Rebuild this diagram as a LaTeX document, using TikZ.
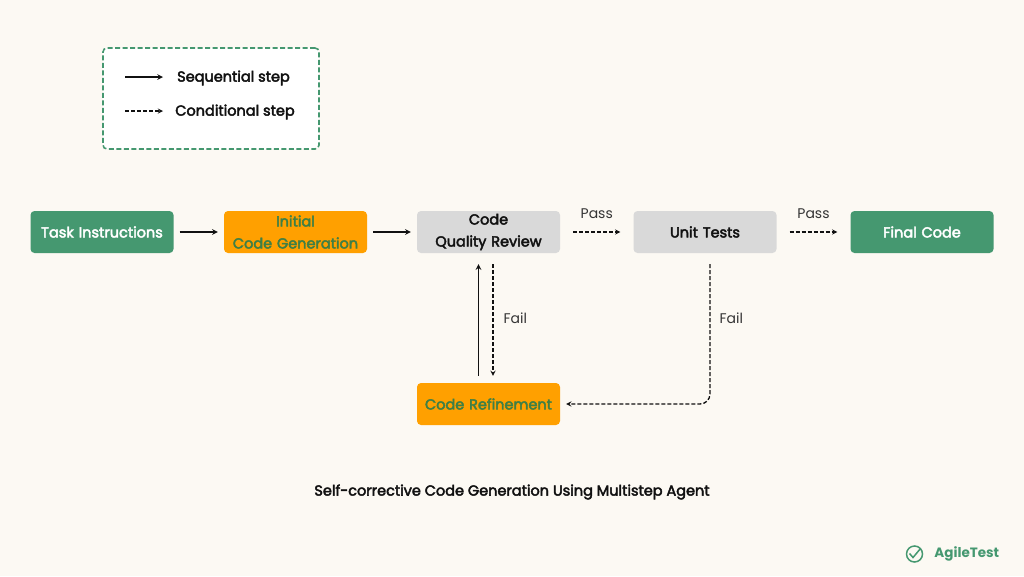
\documentclass[tikz,border=0pt]{standalone}
\usepackage{fontspec}
\setmainfont{Poppins}
\newfontfamily\medfont{Poppins}[FakeBold=3]
\usepackage{xcolor}
\usetikzlibrary{shapes,arrows,positioning}
\definecolor{pagebg}{HTML}{FCF9F3}
\definecolor{brandgreen}{HTML}{459870}
\definecolor{fixorange}{HTML}{FFA000}
\definecolor{checkgrey}{HTML}{D9D9D9}
\definecolor{leafgreen}{HTML}{3F7F45}
\definecolor{inkblack}{HTML}{111111}

\begin{document}
\begin{tikzpicture}[
    x=1pt, y=-1pt,
    stage/.style={rectangle, text width=136pt, text centered, minimum width=143pt, minimum height=42pt, rounded corners=4pt, inner sep=0pt, font=\medfont\fontsize{14.5}{22}\selectfont},
    done/.style={stage, fill=brandgreen, text=white},
    fix/.style={stage, fill=fixorange, text=leafgreen},
    check/.style={stage, fill=checkgrey, text=inkblack},
    arrow/.style={->, line width=1.5pt, >=stealth, inkblack, shorten >=6pt, shorten <=6pt},
    condarrow/.style={arrow, line width=1.3pt, dash pattern=on 4pt off 2pt},
    tag/.style={font=\fontsize{14}{16}\selectfont, text=inkblack!85, inner sep=0pt},
    keytext/.style={font=\medfont\fontsize{14.5}{16}\selectfont, text=inkblack, inner sep=0pt}
]
\fill[pagebg] (0,0) rectangle (1024,576);
\useasboundingbox (0,0) rectangle (1024,576);

% Legend
\node[draw=brandgreen, fill=white, line width=1.6pt, dash pattern=on 5pt off 2.5pt, rounded corners=4pt, minimum width=216pt, minimum height=101pt] (legend) at (211,98.5) {};
\coordinate (seq-from) at (119,77);
\coordinate (seq-to) at (169,77);
\coordinate (cond-from) at (119,111);
\coordinate (cond-to) at (169,111);
\draw[arrow] (seq-from) -- (seq-to);
\draw[condarrow] (cond-from) -- (cond-to);
\node[keytext] (seq-text) at (233.5,78) {Sequential step};
\node[keytext] (cond-text) at (235,112) {Conditional step};

% Stages
\node[done] (task) at (102,232) {Task Instructions};
\node[fix] (initial) at (295.5,232) {Initial\\Code Generation};
\node[check] (review) at (488.5,232) {Code\\Quality Review};
\node[check] (tests) at (705,232) {Unit Tests};
\node[done] (final) at (922,232) {Final Code};
\node[fix] (refine) at (488.5,404) {Code Refinement};

% Main line
\draw[arrow] (task) -- (initial);
\draw[arrow] (initial) -- (review);
\draw[condarrow, shorten <=13pt, shorten >=13pt] (review) -- (tests) node[midway, above=13pt, tag] (pass-one) {Pass};
\draw[condarrow, shorten <=13pt, shorten >=13pt] (tests) -- (final) node[midway, above=13pt, tag] (pass-two) {Pass};

% Refinement loop
\draw[arrow, shorten <=7pt, shorten >=11pt] ([xshift=-10pt]refine.north) -- ([xshift=-10pt]review.south);
\draw[condarrow, shorten <=11pt, shorten >=7pt] ([xshift=4.5pt]review.south) -- ([xshift=4.5pt]refine.north) node[midway, right=10pt, tag] (fail-one) {Fail};
\draw[condarrow, rounded corners=10pt, shorten <=11pt] ([xshift=5pt]tests.south) |- (refine.east) node[pos=0.215, right=9pt, tag] (fail-two) {Fail};

% Caption
\node[keytext] (caption) at (512,492) {Self-corrective Code Generation Using Multistep Agent};

% Brand mark
\node[circle, draw=brandgreen, line width=1.5pt, minimum size=16pt, inner sep=0pt] (logo) at (914.5,554) {};
\draw[brandgreen, line width=1.5pt] (909.5,553.5) -- (913,557.5) -- (920.5,548.5);
\node[font=\bfseries\fontsize{13.5}{16}\selectfont, text=brandgreen, inner sep=0pt, right=11pt of logo] (brand) {AgileTest};

\end{tikzpicture}
\end{document}
